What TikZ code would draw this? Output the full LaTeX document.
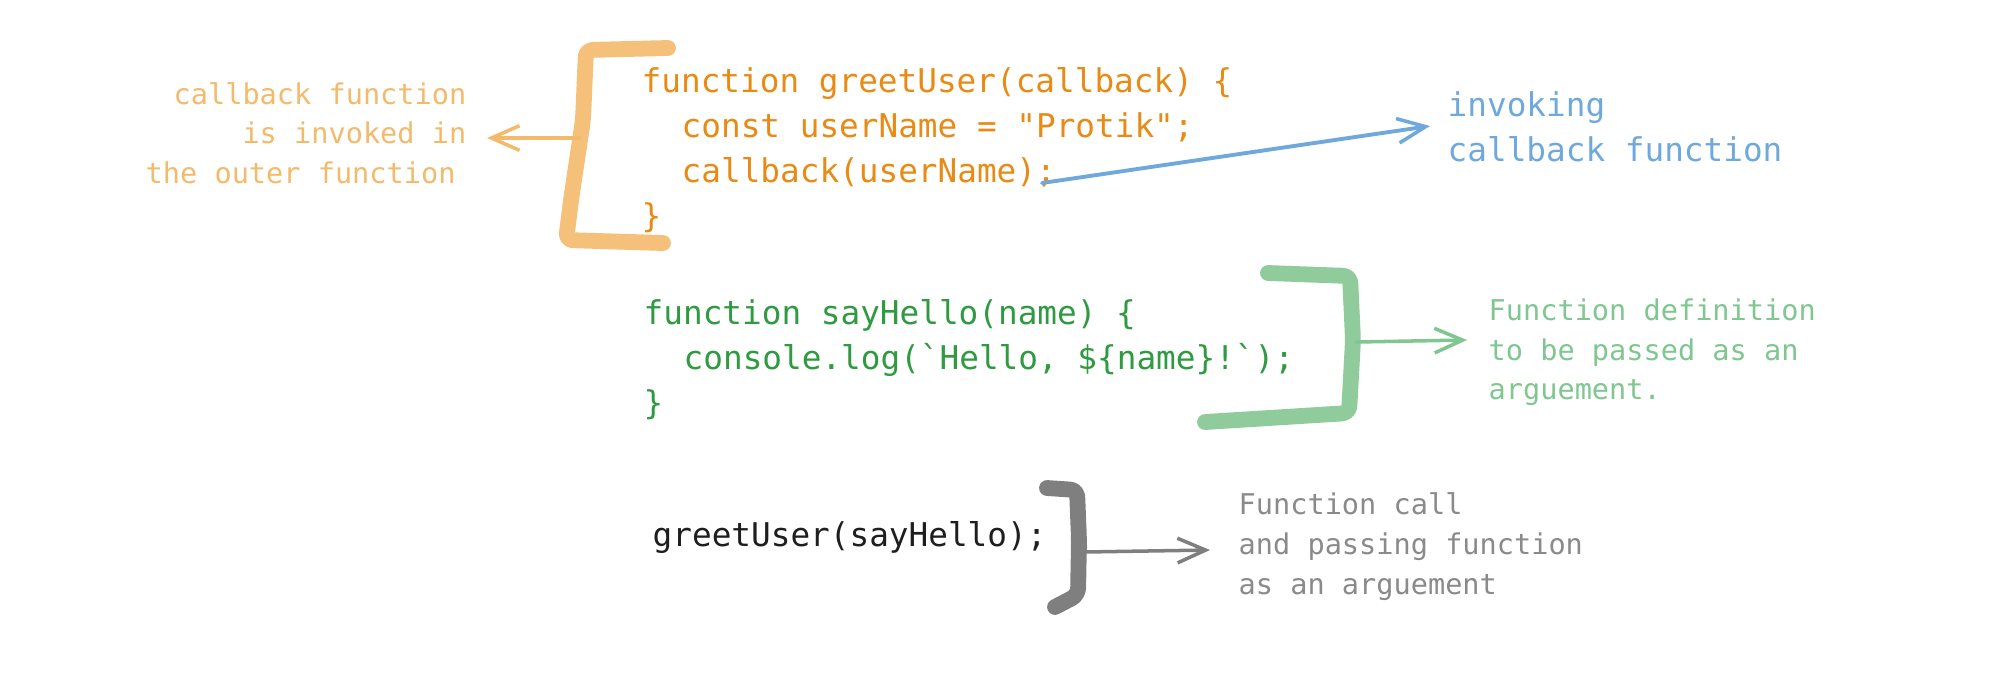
\documentclass[tikz,border=0pt]{standalone}
\usepackage{fontspec}
\setmonofont{DejaVu Sans Mono}
\usetikzlibrary{arrows.meta}
\definecolor{codeorange}{HTML}{E98A15}
\definecolor{lightorange}{HTML}{F5C07A}
\definecolor{noteorange}{HTML}{F4BA6C}
\definecolor{codeblue}{HTML}{6FA8DC}
\definecolor{codegreen}{HTML}{2F9A41}
\definecolor{lightgreen}{HTML}{8FCB9B}
\definecolor{notegreen}{HTML}{80C691}
\definecolor{codeblack}{HTML}{1E1E1E}
\definecolor{bracketgray}{HTML}{7F7F7F}
\definecolor{notegray}{HTML}{8A8A8A}
\tikzset{
  codetxt/.style={font=\ttfamily\fontsize{9.3}{12}\selectfont, inner sep=0pt, anchor=base west},
  notetxt/.style={font=\ttfamily\fontsize{8.13}{11}\selectfont, inner sep=0pt, anchor=base west},
  bracket/.style={line width=4.5pt, line cap=round, line join=round, rounded corners=2pt},
  pointer/.style={line width=1pt, line cap=round, -{Straight Barb[length=8pt,width=7pt,line width=1pt]}}
}
\begin{document}
\begin{tikzpicture}[x=0.01cm,y=-0.01cm]
\useasboundingbox (0,0) rectangle (2000,687);

% ---------- orange block ----------
\draw[bracket, lightorange] (668,48) -- (586,50) -- (583,120) -- (571,200) -- (566,240) -- (663,243);
\node[codetxt, text=codeorange] (o1) at (641,92)  {function greetUser(callback) \{};
\node[codetxt, text=codeorange] (o2) at (681,137) {const userName = "Protik";};
\node[codetxt, text=codeorange] (o3) at (681,182) {callback(userName);};
\node[codetxt, text=codeorange] (o4) at (641,227) {\}};

\node[notetxt, anchor=base east, text=noteorange] (n1) at (467,104) {callback function};
\node[notetxt, anchor=base east, text=noteorange] (n2) at (467,143) {is invoked in};
\node[notetxt, text=noteorange] (n3) at (145,183) {the outer function};
\coordinate (oa) at (580,138);
\coordinate (ob) at (487,138);
\draw[pointer, noteorange] (oa) -- (ob);

% blue arrow and text
\coordinate (ba) at (1042,183);
\coordinate (bb) at (1430,126);
\draw[pointer, codeblue, line width=1.1pt] (ba) -- (bb);
\node[codetxt, text=codeblue] (b1) at (1447,116) {invoking};
\node[codetxt, text=codeblue] (b2) at (1447,161) {callback function};

% ---------- green block ----------
\draw[bracket, lightgreen] (1268,273) -- (1350,276) -- (1353,340) -- (1349,413) -- (1205,422);
\node[codetxt, text=codegreen] (g1) at (643,324) {function sayHello(name) \{};
\node[codetxt, text=codegreen] (g2) at (683,369) {console.log(`Hello, \$\{name\}!`);};
\node[codetxt, text=codegreen] (g3) at (643,414) {\}};
\coordinate (ga) at (1356,342);
\coordinate (gb) at (1467,340);
\draw[pointer, notegreen] (ga) -- (gb);
\node[notetxt, text=notegreen] (m1) at (1488,320) {Function definition};
\node[notetxt, text=notegreen] (m2) at (1488,360) {to be passed as an};
\node[notetxt, text=notegreen] (m3) at (1488,399) {arguement.};

% ---------- gray block ----------
\node[codetxt, text=codeblack] (k1) at (652,546) {greetUser(sayHello);};
\draw[bracket, bracketgray] (1047,488) -- (1077,490) -- (1079,540) -- (1078,595) -- (1055,607);
\coordinate (ka) at (1084,552);
\coordinate (kb) at (1210,550);
\draw[pointer, bracketgray] (ka) -- (kb);
\node[notetxt, text=notegray] (p1) at (1238,514) {Function call};
\node[notetxt, text=notegray] (p2) at (1238,554) {and passing function};
\node[notetxt, text=notegray] (p3) at (1238,594) {as an arguement};
\end{tikzpicture}
\end{document}
